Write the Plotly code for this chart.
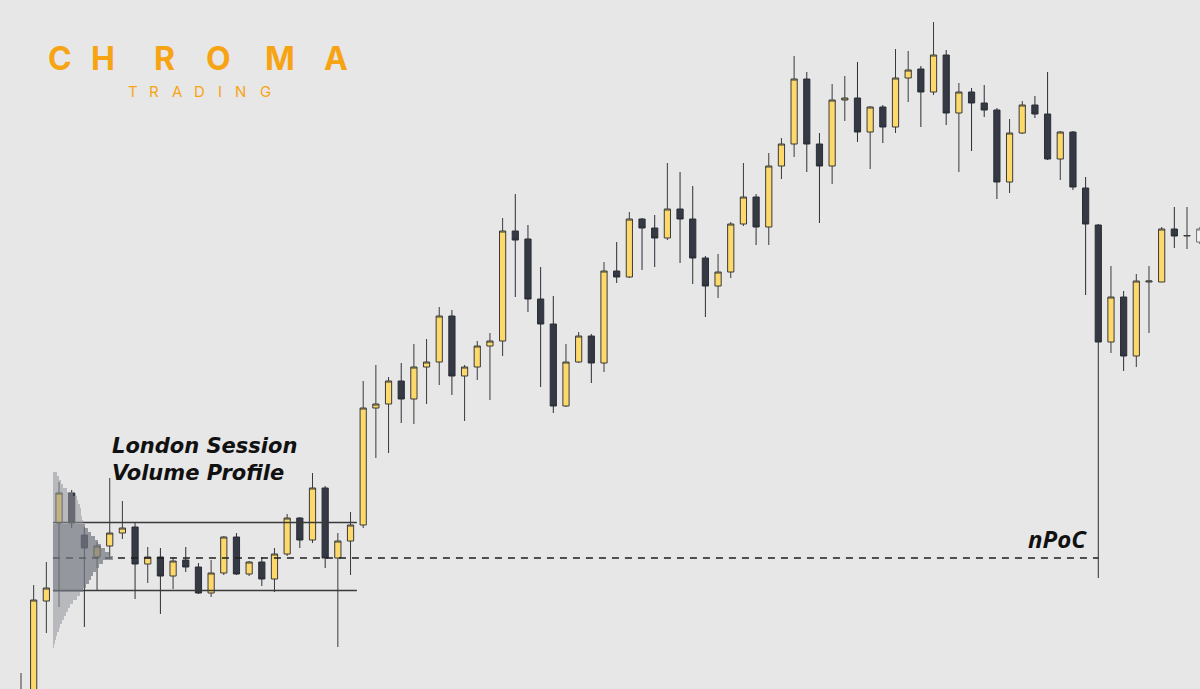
import plotly.graph_objects as go

# ---------------- data (price units, arbitrary scale) ----------------
candle_index = list(range(93))
open_ = [-51, -31, 88, 166, 196, 154, 132, 143, 156, 162,
         125, 132, 113, 129, 122, 96, 116, 152, 115, 127,
         110, 135, 171, 149, 201, 131, 148, 164, 281, 285,
         308, 290, 322, 327, 373, 313, 322, 343, 348, 458,
         450, 390, 365, 283, 327, 353, 326, 418, 412, 470,
         461, 451, 480, 470, 431, 403, 417, 465, 492, 462,
         523, 545, 610, 545, 523, 589, 591, 557, 582, 562,
         611, 620, 597, 634, 576, 597, 586, 579, 507, 556,
         584, 575, 530, 557, 501, 464, 347, 392, 333, 407,
         407, 460, 453]
high = [16, 104, 127, 207, 199, 162, 147, 211, 188, 166,
        142, 141, 132, 142, 126, 129, 153, 156, 128, 132,
        141, 175, 172, 216, 203, 156, 177, 308, 324, 312,
        326, 345, 350, 382, 379, 324, 348, 356, 471, 495,
        464, 422, 393, 345, 357, 355, 427, 447, 477, 471,
        474, 526, 517, 503, 433, 435, 467, 526, 495, 536,
        551, 633, 617, 556, 605, 613, 627, 583, 584, 640,
        638, 623, 667, 639, 606, 601, 604, 581, 570, 588,
        593, 617, 558, 558, 512, 465, 423, 398, 415, 423,
        462, 482, 482]
low = [-71, -41, 56, 82, 161, 62, 99, 131, 150, 90,
       106, 75, 100, 117, 95, 92, 114, 114, 113, 103,
       97, 133, 141, 146, 121, 42, 114, 161, 231, 236,
       266, 265, 285, 304, 294, 268, 309, 289, 333, 392,
       377, 302, 276, 282, 326, 306, 317, 406, 411, 419,
       422, 449, 426, 405, 372, 391, 411, 463, 444, 444,
       510, 532, 517, 466, 505, 568, 547, 520, 546, 556,
       587, 562, 594, 564, 517, 538, 572, 490, 496, 555,
       571, 529, 509, 499, 394, 111, 336, 318, 322, 356,
       407, 441, 440]
close = [-11, 89, 101, 196, 166, 141, 143, 156, 161, 125,
         132, 113, 128, 122, 96, 116, 152, 115, 127, 110,
         135, 171, 149, 201, 131, 148, 164, 281, 285, 308,
         290, 322, 327, 373, 313, 322, 343, 348, 458, 449,
         390, 365, 283, 327, 353, 326, 418, 412, 470, 461,
         451, 480, 470, 431, 403, 417, 465, 492, 462, 523,
         545, 610, 545, 523, 589, 591, 557, 582, 562, 611,
         619, 597, 634, 576, 597, 586, 579, 507, 556, 584,
         575, 530, 557, 502, 465, 347, 392, 333, 408, 408,
         460, 453, 453.5]

# live (still forming) candle at the right edge
live_index = [93]
live_open = [447]
live_high = [462]
live_low = [445]
live_close = [460]

# London session volume profile
profile_levels = [215, 211, 207, 203, 199, 195, 191, 187, 183, 179,
                  175, 171, 167, 163, 159, 155, 151, 147, 143, 139,
                  135, 131, 127, 123, 119, 115, 111, 107, 103, 99,
                  95, 91, 87, 83, 79, 75, 71, 67, 63, 59,
                  55, 51, 47, 43]
profile_volume = [4, 6, 8, 10, 14, 20, 24, 25, 27, 28,
                  28, 29, 30, 32, 35, 38, 42, 45, 48, 52,
                  56, 60, 50, 46, 43, 40, 38, 36, 33, 30,
                  27, 24, 20, 17, 15, 13, 11, 9, 7, 6,
                  4, 3, 2, 1]
value_area_high = 166.5
value_area_low = 98.5
poc_price = 131
session_start = 2.52
session_end = 26.5
npoc_end = 85

# ---------------- styling ----------------
BG = "#e7e7e7"
YELLOW = "#fcd96a"
DARK = "#343944"
ORANGE = "#f7a414"
W, H = 1200, 689

fig = go.Figure()

fig.add_trace(go.Candlestick(
    x=candle_index, open=open_, high=high, low=low, close=close,
    increasing=dict(fillcolor=YELLOW, line=dict(color="#3a3a3a", width=1)),
    decreasing=dict(fillcolor=DARK, line=dict(color="#2a2e36", width=1)),
    whiskerwidth=0, hoverinfo="skip", showlegend=False))

fig.add_trace(go.Candlestick(
    x=live_index, open=live_open, high=live_high, low=live_low, close=live_close,
    increasing=dict(fillcolor="#f3f3f3", line=dict(color="#707070", width=1)),
    decreasing=dict(fillcolor="#f3f3f3", line=dict(color="#707070", width=1)),
    whiskerwidth=0, hoverinfo="skip", showlegend=False))

# value area box lines
for lvl in (value_area_high, value_area_low):
    fig.add_trace(go.Scatter(x=[session_start, session_end], y=[lvl, lvl], mode="lines",
                             line=dict(color="#3a3a3a", width=1.3), hoverinfo="skip",
                             showlegend=False))
# naked POC
fig.add_trace(go.Scatter(x=[session_start, npoc_end], y=[poc_price, poc_price], mode="lines",
                         line=dict(color="#1e1e1e", width=1.5, dash="7px,6px"),
                         hoverinfo="skip", showlegend=False))

# volume profile on an overlaying x axis (units = px width)
bar_colors = ["rgba(118,120,130,0.72)" if value_area_low <= p <= value_area_high
              else "rgba(145,147,155,0.55)" for p in profile_levels]
fig.add_trace(go.Bar(x=profile_volume, y=profile_levels, orientation="h",
                     xaxis="x2", yaxis="y", width=4, marker=dict(color=bar_colors, line=dict(width=0)),
                     hoverinfo="skip", showlegend=False))

px_per_candle = 12.674
x_first_px = 21
x_lo = -x_first_px / px_per_candle
x_hi = x_lo + W / px_per_candle
profile_left_px = 52.7

fig.update_layout(
    width=W, height=H,
    margin=dict(l=0, r=0, t=0, b=0),
    paper_bgcolor=BG, plot_bgcolor=BG,
    showlegend=False, bargap=0,
    xaxis=dict(range=[x_lo, x_hi], visible=False, rangeslider=dict(visible=False), fixedrange=True),
    xaxis2=dict(range=[-profile_left_px, W - profile_left_px], overlaying="x", visible=False,
                fixedrange=True),
    yaxis=dict(range=[0, H], visible=False, fixedrange=True),
    hovermode=False,
)

def px(x, y):
    return x / W, 1 - y / H

# logo
for letter, cx in zip("CHROMA", [60, 103, 164, 218, 280, 336]):
    xx, yy = px(cx, 59)
    fig.add_annotation(x=xx, y=yy, xref="paper", yref="paper", text=letter, showarrow=False,
                       xanchor="center", yanchor="middle",
                       font=dict(family="Inter", size=32, color=ORANGE, weight=700))
for letter, cx in zip("TRADING", [133, 154, 177, 199, 220, 240, 265]):
    xx, yy = px(cx, 91.5)
    fig.add_annotation(x=xx, y=yy, xref="paper", yref="paper", text=letter, showarrow=False,
                       xanchor="center", yanchor="middle",
                       font=dict(family="Inter", size=15, color=ORANGE, weight=400))

label_font = dict(family="DejaVu Sans", size=21, color="#111111", weight=700, style="italic")
xx, yy = px(110, 459)
fig.add_annotation(x=xx, y=yy, xref="paper", yref="paper",
                   text="London Session<br>Volume Profile", showarrow=False,
                   xanchor="left", yanchor="middle", align="left", font=label_font)
xx, yy = px(1089, 538)
fig.add_annotation(x=xx, y=yy, xref="paper", yref="paper", text="nPoC", showarrow=False,
                   xanchor="right", yanchor="middle",
                   font=dict(family="Open Sans", size=24, color="#111111", weight=700, style="italic"))

fig.write_html("out.html", config={"displayModeBar": False},
               post_script="document.body.style.margin='0';")
